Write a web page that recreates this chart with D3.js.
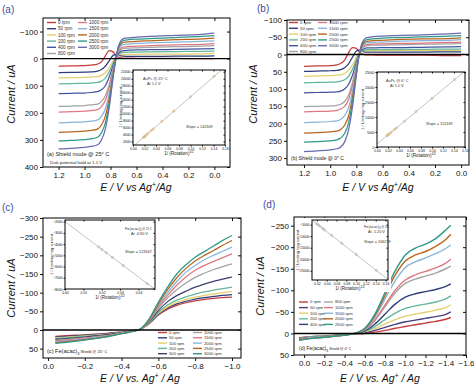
<!DOCTYPE html>
<meta charset="utf-8">
<style>
body{margin:0;background:#fff}
svg text{font-family:"Liberation Sans",Arial,Helvetica,sans-serif}
</style>
<svg width="474" height="387"></svg>
<script src="https://d3js.org/d3.v7.min.js"></script>
<script>
var svg = d3.select("svg");

// ---------- data ----------
var red = "#c63c3c", navy = "#2f3d7a", yellow = "#e4d06a", green = "#63b79c", blue = "#4256a0",
    gray = "#a3a3a3", pink = "#e07882", lblue = "#86b6dc", brown = "#b8651e", teal = "#2e9a8a", purple = "#6a6ab0";

// (a) AuPc shield mode 25 C
var rpmA = ["0 rpm", "50 rpm", "100 rpm", "200 rpm", "400 rpm", "800 rpm", "1000 rpm", "1500 rpm", "2000 rpm", "2500 rpm", "3000 rpm"];
var colorsA = [red, navy, yellow, green, blue, gray, pink, lblue, brown, teal, purple];
var potA = [1.2, 1.1, 1.0, 0.95, 0.9, 0.87, 0.84, 0.81, 0.78, 0.76, 0.74, 0.72, 0.7, 0.66, 0.6, 0.5, 0.3, 0.1, 0.0];
var curA = [
  [28, 27, 26, 24, 20, 12, -10, -30, -25, -12, -5, -3, -2, -2, -1, -1, -1, 0, 0],
  [52, 51, 50, 49, 46, 40, 28, 8, -12, -15, -12, -10, -9, -8, -8, -8, -9, -9, -10],
  [71, 70, 69, 68, 66, 62, 52, 33, 8, -5, -14, -16, -16, -16, -16, -17, -17, -18, -19],
  [93, 92, 91, 90, 88, 83, 72, 48, 16, -2, -16, -21, -23, -24, -24, -25, -26, -27, -28],
  [129, 128, 127, 125, 122, 115, 100, 68, 25, 0, -19, -27, -30, -31, -32, -33, -34, -36, -37],
  [176, 175, 173, 171, 168, 158, 137, 95, 36, 1, -24, -34, -38, -39, -40, -42, -44, -46, -48],
  [197, 196, 194, 192, 188, 177, 154, 106, 40, 2, -27, -39, -43, -45, -46, -48, -51, -53, -55],
  [237, 235, 233, 231, 226, 213, 185, 128, 49, 2, -32, -47, -52, -54, -56, -58, -61, -64, -66],
  [272, 270, 268, 265, 260, 245, 212, 147, 56, 3, -37, -54, -60, -62, -64, -66, -70, -73, -76],
  [304, 302, 299, 296, 290, 274, 237, 164, 63, 4, -41, -60, -67, -70, -72, -74, -78, -82, -85],
  [333, 331, 328, 324, 318, 300, 260, 180, 70, 5, -45, -66, -74, -77, -79, -82, -86, -90, -94]
];
var invA = [0.141, 0.1, 0.0707, 0.05, 0.0354, 0.0316, 0.0258, 0.0224, 0.02, 0.0183];
var ringA = [20700, 14800, 10700, 7800, 5600, 5100, 4300, 3800, 3400, 3200];
var fitA = [142309, 577];

// (b) AuPc shield mode 0 C
var rpmB = rpmA;
var colorsB = colorsA;
var potB = [1.2, 1.1, 1.0, 0.95, 0.92, 0.89, 0.86, 0.83, 0.8, 0.78, 0.76, 0.74, 0.72, 0.68, 0.62, 0.5, 0.3, 0.1, 0.0];
var curB = [
  [34, 33, 32, 30, 26, 16, -5, -20, -18, -8, -2, 0, 1, 1, 2, 2, 2, 3, 3],
  [49, 48, 47, 46, 44, 38, 27, 8, -10, -13, -10, -8, -7, -7, -7, -7, -7, -8, -8],
  [63, 62, 61, 60, 59, 55, 46, 30, 8, -5, -10, -11, -11, -11, -11, -12, -12, -12, -13],
  [82, 81, 80, 79, 77, 73, 63, 43, 15, -2, -10, -13, -14, -14, -14, -15, -15, -16, -16],
  [111, 110, 109, 108, 106, 100, 87, 60, 22, 0, -12, -17, -19, -19, -20, -20, -21, -22, -23],
  [151, 150, 149, 147, 144, 136, 118, 81, 31, 1, -16, -23, -26, -27, -27, -28, -30, -31, -32],
  [166, 165, 164, 162, 158, 150, 130, 90, 35, 1, -18, -26, -29, -30, -31, -32, -33, -35, -36],
  [197, 196, 194, 192, 188, 177, 154, 106, 41, 2, -21, -30, -34, -35, -36, -38, -40, -41, -43],
  [228, 226, 224, 222, 217, 205, 178, 123, 48, 3, -23, -34, -38, -40, -41, -43, -45, -46, -48],
  [254, 252, 250, 247, 242, 229, 198, 137, 53, 3, -27, -39, -43, -45, -47, -49, -51, -53, -55],
  [281, 279, 276, 273, 268, 253, 219, 152, 59, 4, -30, -44, -49, -51, -53, -55, -57, -60, -62]
];
var invB = [0.141, 0.1, 0.0707, 0.05, 0.0354, 0.0316, 0.0258, 0.0224, 0.02, 0.0183];
var ringB = [22500, 16200, 11800, 8600, 6400, 5800, 4900, 4400, 4000, 3800];
var fitB = [152169, 980];

// (c) Fe(acac)3 shield 25 C
var rpmC = ["0 rpm", "50 rpm", "100 rpm", "200 rpm", "500 rpm", "1000 rpm", "1500 rpm", "2000 rpm", "2500 rpm", "3000 rpm"];
var colorsC = [red, navy, yellow, green, "#3b3f6e", gray, pink, lblue, brown, teal];
var potC = [-0.04, -0.1, -0.2, -0.3, -0.4, -0.45, -0.5, -0.55, -0.6, -0.65, -0.7, -0.75, -0.8, -0.85, -0.9, -0.95, -1.0];
var curC = [
  [17, 15, 13, 10, 5, 2, -2, -17, -40, -56, -66, -73, -78, -82, -85, -87, -88],
  [19, 17, 14, 11, 6, 3, -2, -18, -42, -59, -70, -77, -83, -87, -90, -93, -95],
  [21, 19, 16, 12, 6, 3, -2, -19, -44, -62, -74, -82, -88, -93, -97, -100, -103],
  [23, 21, 17, 13, 7, 3, -2, -20, -47, -67, -80, -89, -96, -102, -107, -111, -115],
  [25, 23, 19, 14, 7, 3, -2, -22, -52, -76, -92, -104, -115, -123, -130, -136, -142],
  [28, 25, 21, 16, 8, 4, -2, -24, -58, -86, -108, -126, -141, -152, -162, -170, -177],
  [30, 27, 22, 17, 9, 4, -2, -25, -62, -93, -120, -142, -160, -173, -184, -194, -204],
  [32, 29, 24, 18, 9, 4, -2, -27, -66, -100, -130, -155, -173, -188, -200, -211, -222],
  [34, 31, 26, 19, 10, 5, -2, -28, -70, -108, -140, -165, -185, -200, -213, -227, -240],
  [36, 33, 27, 20, 10, 5, -2, -30, -75, -115, -150, -175, -195, -210, -225, -240, -253]
];
var invC = [0.0447, 0.0316, 0.0258, 0.0224, 0.02, 0.0183];
var ringC = [-7520, -5900, -5180, -4760, -4470, -4250];
var fitC = [-123347, -1993];

// (d) Fe(acac)3 shield 0 C
var rpmD = ["0 rpm", "50 rpm", "100 rpm", "200 rpm", "400 rpm", "800 rpm", "1000 rpm", "1500 rpm", "2000 rpm", "2500 rpm"];
var colorsD = [red, "#4a3f7e", yellow, green, navy, gray, pink, lblue, brown, teal];
var potD = [0.05, -0.05, -0.2, -0.4, -0.5, -0.6, -0.7, -0.8, -0.9, -1.0, -1.1, -1.2, -1.3, -1.4, -1.45];
var curD = [
  [10, 8, 6, 3, 1, 0, -3, -7, -12, -16, -20, -24, -28, -33, -37],
  [11, 8, 6, 3, 1, -2, -7, -14, -21, -27, -31, -35, -39, -44, -50],
  [12, 9, 6, 3, 0, -4, -11, -22, -32, -40, -45, -49, -54, -60, -66],
  [12, 9, 7, 3, 0, -5, -16, -32, -47, -58, -64, -68, -73, -80, -87],
  [13, 10, 7, 3, 0, -6, -22, -45, -68, -84, -92, -97, -102, -109, -115],
  [14, 10, 8, 3, 0, -8, -30, -62, -94, -116, -126, -133, -140, -150, -156],
  [14, 11, 8, 4, 0, -9, -32, -66, -100, -124, -136, -144, -152, -163, -172],
  [15, 11, 8, 4, 0, -10, -38, -80, -122, -153, -166, -175, -185, -197, -205],
  [15, 12, 9, 4, 0, -11, -42, -88, -135, -168, -182, -190, -202, -218, -230],
  [16, 12, 9, 4, 0, -12, -45, -95, -145, -182, -198, -207, -220, -240, -251]
];
var invD = [0.141, 0.1, 0.0707, 0.05, 0.0354, 0.0316, 0.0258, 0.0224, 0.02];
var ringD = [-24800, -17950, -13100, -9650, -7250, -6600, -5650, -5100, -4700];
var fitD = [-166279, -1355];

// ---------- drawing helpers ----------
var labelBlue = "#3a4c9c";

function styleAxis(sel, fs) {
  sel.select(".domain").remove();
  sel.selectAll("text").attr("font-size", fs).attr("fill", "#111");
  sel.selectAll("line").attr("stroke", "#111");
}

function titleX(cx, cy, pre, post) {
  var t = svg.append("text").attr("x", cx).attr("y", cy).attr("text-anchor", "middle")
    .attr("font-size", 10.5).attr("font-style", "italic").attr("fill", "#111");
  t.append("tspan").text(pre);
  t.append("tspan").attr("dy", -4).attr("font-size", 7).text("+");
  t.append("tspan").attr("dy", 4).text(post);
}

function titleY(cx, cy) {
  svg.append("text").attr("transform", "translate(" + cx + "," + cy + ") rotate(-90)")
    .attr("text-anchor", "middle").attr("font-size", 11).attr("font-style", "italic")
    .attr("fill", "#111").text("Current / uA");
}

function legend(labels, colors, x0, y0, rowH, colW, perCol, fs) {
  labels.forEach(function(lab, i) {
    var c = Math.floor(i / perCol), r = i % perCol;
    var lx = x0 + c * colW, ly = y0 + r * rowH;
    svg.append("line").attr("x1", lx).attr("x2", lx + 9).attr("y1", ly).attr("y2", ly)
      .attr("stroke", colors[i]).attr("stroke-width", 1.4);
    svg.append("text").attr("x", lx + 11).attr("y", ly + fs * 0.35).attr("font-size", fs)
      .attr("fill", "#333").text(lab);
  });
}

function drawPanel(p) {
  var x = d3.scaleLinear().domain(p.xDomain).range([p.box[0], p.box[2]]);
  var y = d3.scaleLinear().domain(p.yDomain).range([p.box[1], p.box[3]]);
  var clip = svg.append("clipPath").attr("id", "clip" + p.id);
  clip.append("rect").attr("x", p.box[0]).attr("y", p.box[1])
    .attr("width", p.box[2] - p.box[0]).attr("height", p.box[3] - p.box[1]);

  var line = d3.line().x(function(d) { return x(d[0]); }).y(function(d) { return y(d[1]); })
    .curve(d3.curveMonotoneX);
  var g = svg.append("g").attr("clip-path", "url(#clip" + p.id + ")");
  p.series.forEach(function(vals, i) {
    g.append("path").datum(p.pot.map(function(e, j) { return [e, vals[j]]; }))
      .attr("d", line).attr("fill", "none").attr("stroke", p.colors[i]).attr("stroke-width", p.lw);
  });
  svg.append("line").attr("x1", p.box[0]).attr("x2", p.box[2]).attr("y1", y(0)).attr("y2", y(0))
    .attr("stroke", "#000").attr("stroke-width", 1.4);

  var fmt = d3.format(".1f");
  styleAxis(svg.append("g").attr("transform", "translate(0," + p.box[3] + ")")
    .call(d3.axisBottom(x).tickValues(p.xTicks).tickFormat(fmt).tickSizeInner(3).tickSizeOuter(0).tickPadding(2)), 8);
  styleAxis(svg.append("g").attr("transform", "translate(0," + p.box[1] + ")")
    .call(d3.axisTop(x).tickValues(p.xTicks).tickFormat("").tickSizeInner(-3).tickSizeOuter(0)), 8);
  styleAxis(svg.append("g").attr("transform", "translate(" + p.box[0] + ",0)")
    .call(d3.axisLeft(y).tickValues(p.yTicks).tickFormat(d3.format("d")).tickSizeInner(3).tickSizeOuter(0).tickPadding(2)), 8);
  styleAxis(svg.append("g").attr("transform", "translate(" + p.box[2] + ",0)")
    .call(d3.axisRight(y).tickValues(p.yTicks).tickFormat("").tickSizeInner(-3).tickSizeOuter(0)), 8);

  svg.append("text").attr("x", p.tag[0]).attr("y", p.tag[1]).attr("font-size", 10)
    .attr("fill", labelBlue).text(p.tagText);
  titleY(p.yTitle[0], p.yTitle[1]);
  titleX(p.xTitle[0], p.xTitle[1], p.xPre, p.xPost);
}

function frame(box) {
  svg.append("rect").attr("x", box[0]).attr("y", box[1]).attr("width", box[2] - box[0])
    .attr("height", box[3] - box[1]).attr("fill", "none").attr("stroke", "#000").attr("stroke-width", 1);
}

function drawInset(q) {
  svg.append("rect").attr("x", q.bg[0]).attr("y", q.bg[1]).attr("width", q.bg[2] - q.bg[0])
    .attr("height", q.bg[3] - q.bg[1]).attr("fill", "#fff");
  var x = d3.scaleLinear().domain(q.xDomain).range([q.box[0], q.box[2]]);
  var y = d3.scaleLinear().domain(q.yDomain).range([q.box[3], q.box[1]]);
  var x0 = q.xDomain[0], x1 = q.xDomain[1];
  var fy = function(v) { return q.fit[0] * v + q.fit[1]; };
  // clip the fit line to the inset frame
  var cid = "iclip" + q.id;
  svg.append("clipPath").attr("id", cid).append("rect").attr("x", q.box[0]).attr("y", q.box[1])
    .attr("width", q.box[2] - q.box[0]).attr("height", q.box[3] - q.box[1]);
  svg.append("line").attr("clip-path", "url(#" + cid + ")")
    .attr("x1", x(x0)).attr("y1", y(fy(x0))).attr("x2", x(x1)).attr("y2", y(fy(x1)))
    .attr("stroke", "#b4b4b4").attr("stroke-width", 0.8);
  q.xs.forEach(function(v, i) {
    svg.append("circle").attr("cx", x(v)).attr("cy", y(q.ys[i])).attr("r", 1.1)
      .attr("fill", "none").attr("stroke", q.ptColor).attr("stroke-width", 0.5);
  });
  frame(q.box);
  var fs = 3.4;
  styleAxis(svg.append("g").attr("transform", "translate(0," + q.box[3] + ")")
    .call(d3.axisBottom(x).tickValues(q.xTicks).tickFormat(d3.format(".2f")).tickSizeInner(1.5).tickSizeOuter(0).tickPadding(1)), fs);
  styleAxis(svg.append("g").attr("transform", "translate(" + q.box[0] + ",0)")
    .call(d3.axisLeft(y).tickValues(q.yTicks).tickFormat(d3.format("d")).tickSizeInner(1.5).tickSizeOuter(0).tickPadding(1)), fs);
  styleAxis(svg.append("g").attr("transform", "translate(0," + q.box[1] + ")")
    .call(d3.axisTop(x).tickValues(q.xTicks).tickFormat("").tickSizeInner(-1.5).tickSizeOuter(0)), fs);
  styleAxis(svg.append("g").attr("transform", "translate(" + q.box[2] + ",0)")
    .call(d3.axisRight(y).tickValues(q.yTicks).tickFormat("").tickSizeInner(-1.5).tickSizeOuter(0)), fs);

  var cx = (q.box[0] + q.box[2]) / 2;
  var xt = svg.append("text").attr("x", cx).attr("y", q.box[3] + 9.5).attr("text-anchor", "middle")
    .attr("font-size", 4.6).attr("fill", "#222");
  xt.append("tspan").text("1/ (Rotation)");
  xt.append("tspan").attr("dy", -1.8).attr("font-size", 3.2).text("1/2");
  svg.append("text").attr("transform", "translate(" + q.yLabelX + "," + ((q.box[1] + q.box[3]) / 2) + ") rotate(-90)")
    .attr("text-anchor", "middle").attr("font-size", 4).attr("fill", "#222").text("1 / Limiting ring current");
  q.notes.forEach(function(n) {
    var t = svg.append("text").attr("x", n[0]).attr("y", n[1]).attr("font-size", 3.8).attr("fill", "#333");
    n[2].forEach(function(part) {
      var s = t.append("tspan").text(part[0]);
      if (part[1]) s.attr("font-size", 2.8).attr("dy", part[1]);
    });
  });
}

function note(x, y, parts, fs) {
  var t = svg.append("text").attr("x", x).attr("y", y).attr("font-size", fs).attr("fill", "#222");
  parts.forEach(function(part) {
    var s = t.append("tspan").text(part[0]);
    if (part[1]) s.attr("font-size", fs * 0.7).attr("dy", part[1]);
  });
}

// ---------- panels ----------
var panels = [
  { id: "a", box: [43, 18, 230, 167], xDomain: [1.32, -0.12], yDomain: [-150, 400],
    xTicks: [1.2, 1.0, 0.8, 0.6, 0.4, 0.2, 0.0], yTicks: [-100, 0, 100, 200, 300, 400],
    pot: potA, series: curA, colors: colorsA, lw: 1.25, tag: [2, 13], tagText: "(a)",
    yTitle: [15, 94], xTitle: [136, 191], xPre: "E / V vs Ag", xPost: "/Ag" },
  { id: "b", box: [287, 20, 469, 165], xDomain: [1.33, -0.06], yDomain: [-100, 320],
    xTicks: [1.2, 1.0, 0.8, 0.6, 0.4, 0.2, 0.0], yTicks: [-100, -50, 0, 50, 100, 150, 200, 250, 300],
    pot: potB, series: curB, colors: colorsB, lw: 1.25, tag: [257, 12], tagText: "(b)",
    yTitle: [257, 94], xTitle: [378, 191], xPre: "E / V vs Ag", xPost: "/Ag" },
  { id: "c", box: [43, 218, 241, 358], xDomain: [0.027, -1.049], yDomain: [-300, 75],
    xTicks: [0.0, -0.2, -0.4, -0.6, -0.8, -1.0], yTicks: [-300, -250, -200, -150, -100, -50, 0, 50],
    pot: potC, series: curC, colors: colorsC, lw: 1.25, tag: [2, 211], tagText: "(c)",
    yTitle: [15, 288], xTitle: [140, 382], xPre: "E / V vs. Ag", xPost: " / Ag" },
  { id: "d", box: [294, 217, 466, 355], xDomain: [0.1, -1.6], yDomain: [-270, 50],
    xTicks: [0.0, -0.2, -0.4, -0.6, -0.8, -1.0, -1.2, -1.4, -1.6], yTicks: [-250, -200, -150, -100, -50, 0, 50],
    pot: potD, series: curD, colors: colorsD, lw: 1.4, tag: [263, 208], tagText: "(d)",
    yTitle: [264, 286], xTitle: [380, 382], xPre: "E / V vs. Ag", xPost: " / Ag" }
];
panels.forEach(drawPanel);

// legends
legend(rpmA, colorsA, 47, 22.5, 6.2, 31, 6, 4.6);
legend(rpmB, colorsB, 289, 22.5, 5.8, 29, 6, 4.4);
legend(rpmC, colorsC, 158, 332.5, 5.3, 35, 5, 4.2);
legend(rpmD, colorsD, 299, 302, 5.6, 25, 5, 4.2);

// panel notes
note(47, 156, [["(a) Shield mode @ 25° C"]], 5.6);
note(50, 164, [["Disk potential hold at 1.1 V"]], 4.4);
note(291, 160, [["(b) Shield mode  @ 0° C"]], 5.0);
note(47, 353, [["(c) Fe(acac)"], ["3", 1.5], [" Shield @ 25° C", -1.5]], 5.6);
note(299, 350, [["(d) Fe(acac)"], ["3", 1.5], [" Shield @ 0° C", -1.5]], 5.0);

// insets
var insets = [
  { id: "a", bg: [118, 66, 229, 158], box: [133, 70, 225, 145], xDomain: [0, 0.16], yDomain: [1000, 22500],
    xTicks: [0, 0.02, 0.04, 0.06, 0.08, 0.1, 0.12, 0.14, 0.16],
    yTicks: [2000, 4000, 6000, 8000, 10000, 12000, 14000, 16000, 18000, 20000, 22000],
    xs: invA, ys: ringA, fit: fitA, ptColor: "#c99a55", yLabelX: 122,
    notes: [[143, 80, [["AuPc @ 25° C"]]], [147, 85, [["At 1.1 V"]]], [186, 128, [["Slope = 142309"]]]] },
  { id: "b", bg: [360, 68, 469, 161], box: [377, 72, 465, 147], xDomain: [0, 0.16], yDomain: [0, 25000],
    xTicks: [0, 0.02, 0.04, 0.06, 0.08, 0.1, 0.12, 0.14, 0.16],
    yTicks: [0, 5000, 10000, 15000, 20000, 25000],
    xs: invB, ys: ringB, fit: fitB, ptColor: "#c99a55", yLabelX: 364,
    notes: [[386, 82, [["AuPc @ 0° C"]]], [390, 87, [["At 1.1 V"]]], [426, 125, [["Slope = 152169"]]]] },
  { id: "c", bg: [48, 218, 158, 302], box: [65, 220, 155, 289], xDomain: [0, 0.049], yDomain: [-8000, -1850],
    xTicks: [0, 0.01, 0.02, 0.03, 0.04],
    yTicks: [-2000, -3000, -4000, -5000, -6000, -7000, -8000],
    xs: invC, ys: ringC, fit: fitC, ptColor: "#9a9a9a", yLabelX: 53,
    notes: [[125, 230, [["Fe(acac)"], ["3", 1], [" @ 25 C", -1]]], [131, 235, [["At -0.90 V"]]], [125, 253, [["Slope = 123347"]]]] },
  { id: "d", bg: [297, 218, 391, 292], box: [312, 220, 388, 280], xDomain: [0.01, 0.165], yDomain: [-29000, -3000],
    xTicks: [0.02, 0.04, 0.06, 0.08, 0.1, 0.12, 0.14, 0.16],
    yTicks: [-5000, -10000, -15000, -20000, -25000],
    xs: invD, ys: ringD, fit: fitD, ptColor: "#9a9a9a", yLabelX: 299,
    notes: [[364, 228, [["Fe(acac)"], ["3", 1], [" @ 0 C", -1]]], [368, 233, [["At -1.20 V"]]], [364, 243, [["Slope = 166279"]]]] }
];
insets.forEach(drawInset);

// main frames on top
panels.forEach(function(p) { frame(p.box); });
</script>
